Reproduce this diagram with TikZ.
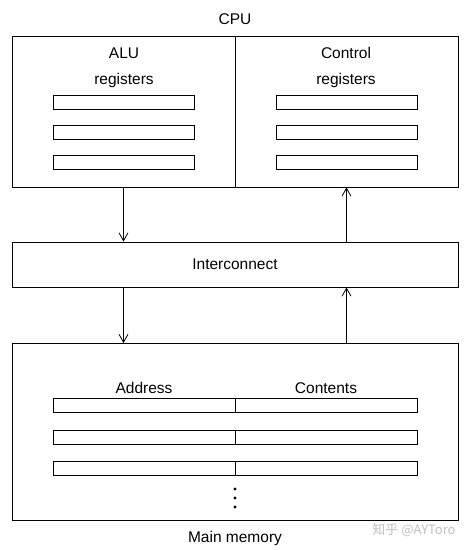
\documentclass[tikz,border=0pt]{standalone}
\usepackage{fontspec}
\setmainfont{Liberation Sans}
\newfontfamily\cjk{Noto Sans CJK SC}
\usetikzlibrary{arrows.meta}

\begin{document}
\begin{tikzpicture}[x=1pt,y=-1pt,line width=0.8pt,
  font=\fontsize{15.5}{18}\selectfont,
  box/.style={draw,rectangle,inner sep=0pt,minimum width=#1},
  reg/.style={draw,rectangle,inner sep=0pt,minimum width=#1,minimum height=14pt},
  link/.style={-{Straight Barb[length=8pt,width=9pt]}}]

  \useasboundingbox (0,0) rectangle (474,550);

  % CPU
  \node (CPU) at (235,19) {CPU};
  \node[box=223pt,minimum height=151pt] (ALUbox) at (123.5,111.5) {};
  \node[box=223pt,minimum height=151pt] (CtrlBox) at (346.5,111.5) {};
  \node (ALU) at (124,53) {ALU};
  \node (ALUreg) at (124,80) {registers};
  \node (Ctrl) at (346,53) {Control};
  \node (CtrlReg) at (346,80) {registers};
  \foreach \y [count=\i] in {102,132,162}{
    \node[reg=141pt] (ALUr\i) at (123.5,\y) {};
    \node[reg=141pt] (CtrlR\i) at (346.5,\y) {};
  }

  % INTERCONNECT
  \node[box=446pt,minimum height=45pt] (IC) at (235,264.5) {Interconnect};

  % MAIN MEMORY
  \node[box=446pt,minimum height=177pt] (Mem) at (235,432) {};
  \node (Addr) at (144,388) {Address};
  \node (Cont) at (326,388) {Contents};
  \foreach \y [count=\i] in {405.5,437,468}{
    \node[reg=182pt] (MemA\i) at (144,\y) {};
    \node[reg=182pt] (MemC\i) at (326,\y) {};
  }
  \foreach \y in {489,498,507}
    \fill (235,\y) circle (1.7pt);
  \node (MemLabel) at (235,538) {Main memory};

  % watermark
  \node[text=black!25,font=\cjk\fontsize{13}{15}\selectfont] (Mark) at (414,530) {知乎 @AYToro};

  % links
  \draw[link] (ALUbox.south) -- (ALUbox.south |- IC.north);
  \draw[link] (IC.north -| CtrlBox) -- (CtrlBox.south);
  \draw[link] (IC.south -| ALUbox) -- (Mem.north -| ALUbox);
  \draw[link] (Mem.north -| CtrlBox) -- (IC.south -| CtrlBox);
\end{tikzpicture}
\end{document}
